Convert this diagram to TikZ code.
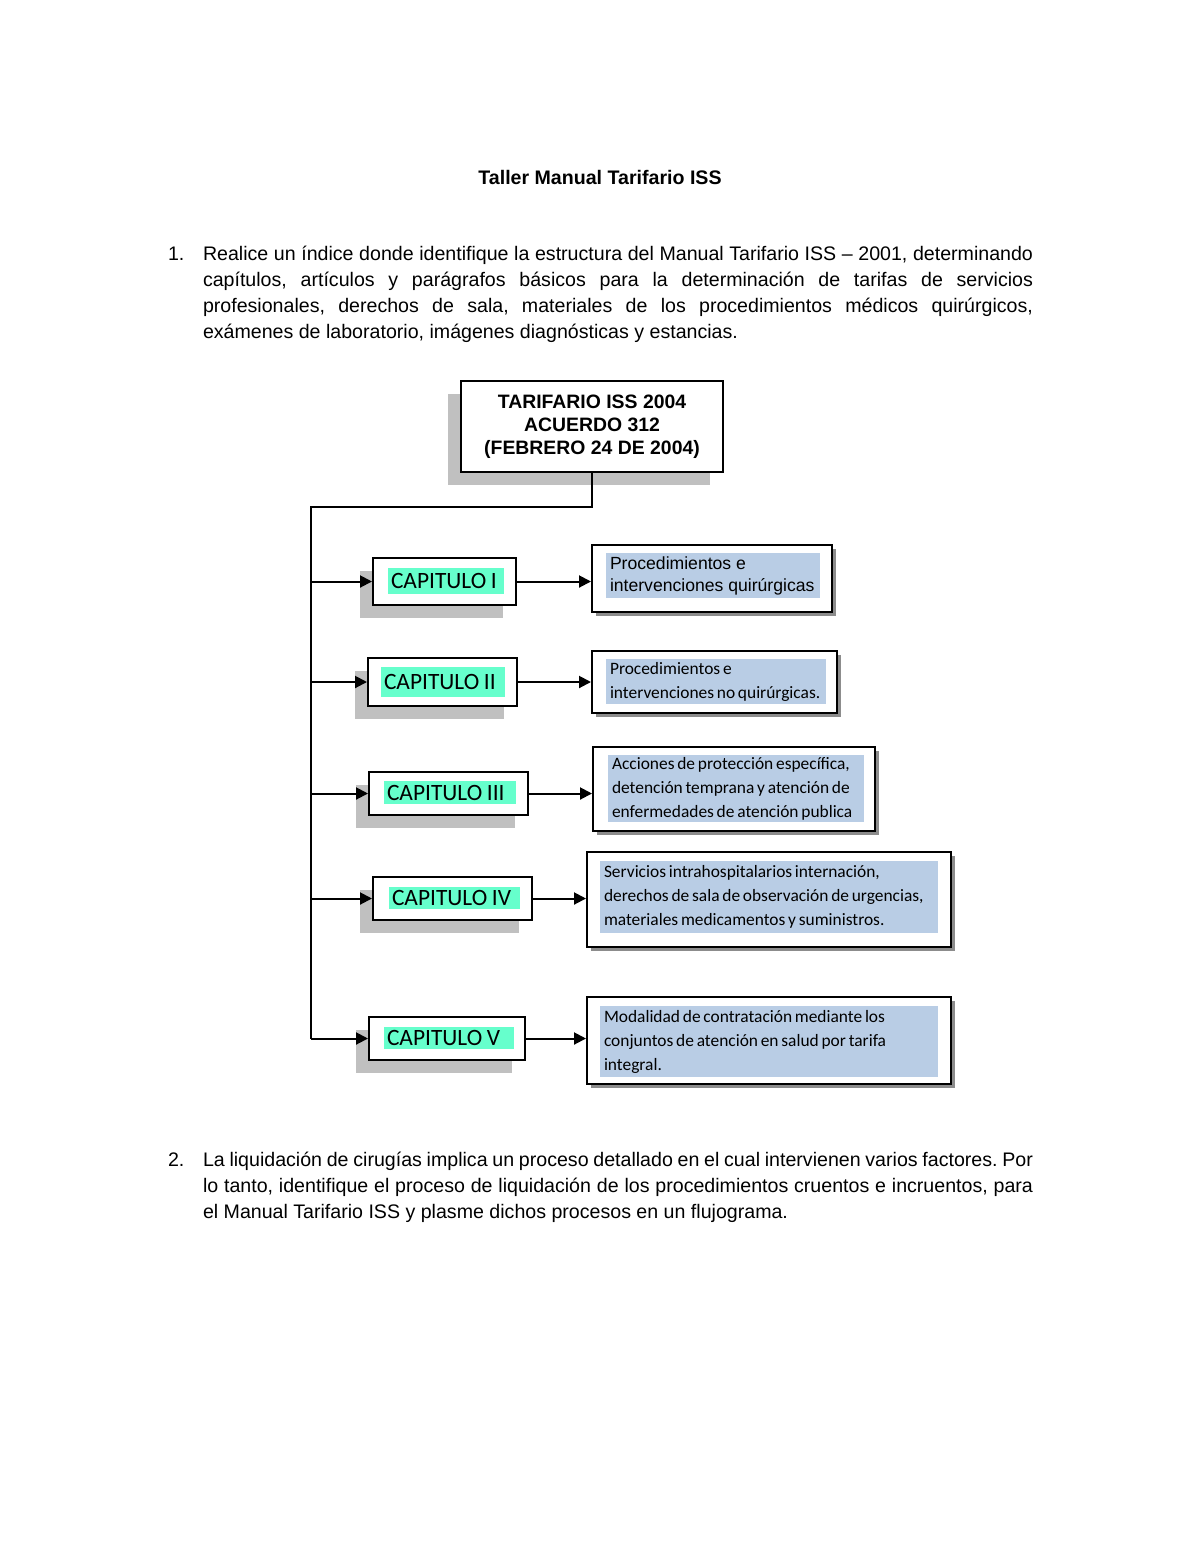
\documentclass[tikz,border=0pt]{standalone}
\usepackage{fontspec}
\setmainfont{Liberation Sans}
\newfontfamily\carlito{Carlito}
\usetikzlibrary{arrows.meta, shadows}

\definecolor{capgreen}{HTML}{66FFCC}
\definecolor{descblue}{HTML}{B9CDE5}
\definecolor{shadowgray}{HTML}{C0C0C0}

\newcommand{\tightspaces}{\spaceskip=0.16em plus 0.05em minus 0.02em\relax\hyphenpenalty=10000\relax}
\newcommand{\labelspaces}{\spaceskip=0.2em\relax}
\newcommand{\nohyph}{\spaceskip=0pt\relax\hyphenpenalty=10000\relax}

\tikzset{
  bodytext/.style={inner sep=0pt, font=\fontsize{9.8}{13}\selectfont, execute at begin node=\frenchspacing},
  topbox/.style={draw, fill=white, line width=1pt, align=center, inner sep=0pt,
    font=\bfseries\fontsize{9.7}{11.5}\selectfont,
    drop shadow={shadow xshift=-6.5pt, shadow yshift=-6.5pt, fill=shadowgray, opacity=1}},
  capbox/.style 2 args={draw, fill=white, line width=1pt, inner sep=0pt,
    minimum width=#1, minimum height=#2,
    drop shadow={shadow xshift=-6.5pt, shadow yshift=-6.5pt, fill=shadowgray, opacity=1}},
  caplabel/.style 2 args={fill=capgreen, anchor=west, inner xsep=1.5pt, inner ysep=0pt,
    text width=#1, minimum height=#2, align=left,
    font=\carlito\fontsize{11.7}{13}\selectfont, execute at begin node=\labelspaces},
  descbox/.style 2 args={draw, fill=white, line width=1pt, inner sep=0pt,
    minimum width=#1, minimum height=#2,
    drop shadow={shadow xshift=2pt, shadow yshift=-2pt, fill=black!45, opacity=1}},
  desctext/.style 2 args={fill=descblue, inner xsep=2pt, inner ysep=0pt,
    text width=#1, minimum height=#2, align=left,
    font=\carlito\fontsize{8.7}{12}\selectfont, execute at begin node=\tightspaces},
}

\begin{document}
\begin{tikzpicture}[x=0.5pt, y=-0.5pt, >={Triangle[length=6pt, width=6pt]}, line width=1pt]
    \useasboundingbox[fill=white] (0,0) rectangle (1200,1553);

    % heading and first question
    \node[bodytext, font=\bfseries\fontsize{9.8}{13}\selectfont, anchor=base] (title) at (600,184) {Taller Manual Tarifario ISS};
    \node[bodytext, anchor=base west] (num1) at (167,260) {1.};
    \node[bodytext, anchor=base west, text width=415pt, align=justify] (q1) at (202,260)
        {Realice un índice donde identifique la estructura del Manual Tarifario ISS – 2001, determinando\linebreak
         capítulos, artículos y parágrafos básicos para la determinación de tarifas de servicios\linebreak
         profesionales, derechos de sala, materiales de los procedimientos médicos quirúrgicos,\linebreak
         exámenes de laboratorio, imágenes diagnósticas y estancias.};

    % main box
    \node[topbox, minimum width=131pt, minimum height=45.5pt] (top) at (592,426.5)
        {TARIFARIO ISS 2004\\ACUERDO 312\\(FEBRERO 24 DE 2004)};

    % chapters
    \node[capbox={71.5pt}{23.5pt}] (c1) at (444.5,581.5) {};
    \node[caplabel={55pt}{13pt}] (g1) at (387,581) {CAPITULO I};
    \node[capbox={74.5pt}{24pt}] (c2) at (442.5,682) {};
    \node[caplabel={59pt}{15pt}] (g2) at (380,682) {CAPITULO II};
    \node[capbox={79.5pt}{21.5pt}] (c3) at (448.5,793.5) {};
    \node[caplabel={63pt}{11.5pt}] (g3) at (383,792.5) {CAPITULO III};
    \node[capbox={79.5pt}{21.5pt}] (c4) at (452.5,898.5) {};
    \node[caplabel={62.5pt}{11pt}] (g4) at (388,898) {CAPITULO IV};
    \node[capbox={78pt}{21.5pt}] (c5) at (447,1038.5) {};
    \node[caplabel={62pt}{11pt}] (g5) at (383,1038) {CAPITULO V};

    % descriptions
    \node[descbox={120pt}{33.5pt}] (d1) at (712,578.5) {};
    \node[desctext={103pt}{22.5pt}, font=\fontsize{8.8}{11}\selectfont, execute at begin node=\nohyph] (b1) at (713,575.5)
        {Procedimientos e\\intervenciones quirúrgicas};
    \node[descbox={122.5pt}{31pt}] (d2) at (714.5,682) {};
    \node[desctext={106pt}{22.5pt}] (b2) at (716,681.5)
        {Procedimientos e\\intervenciones no quirúrgicas.};
    \node[descbox={141pt}{42pt}] (d3) at (734,789) {};
    \node[desctext={124pt}{33.5pt}] (b3) at (736,788.5)
        {Acciones de protección específica,\\detención temprana y atención de\\enfermedades de atención publica};
    \node[descbox={182pt}{47.5pt}] (d4) at (769,899.5) {};
    \node[desctext={165pt}{36pt}] (b4) at (769,897)
        {Servicios intrahospitalarios internación,\\derechos de sala de observación de urgencias,\\materiales medicamentos y suministros.};
    \node[descbox={182pt}{43.5pt}] (d5) at (769,1040.5) {};
    \node[desctext={165pt}{35.5pt}] (b5) at (769,1041.5)
        {Modalidad de contratación mediante los\\conjuntos de atención en salud por tarifa\\integral.};

    % connectors
    \coordinate (trunk) at (311,507);
    \draw (top.south) |- (trunk) -- (trunk |- c5.west);
    \draw[->] (trunk |- c1.west) -- (c1.west);
    \draw[->] (trunk |- c2.west) -- (c2.west);
    \draw[->] (trunk |- c3.west) -- (c3.west);
    \draw[->] (trunk |- c4.west) -- (c4.west);
    \draw[->] (trunk |- c5.west) -- (c5.west);
    \draw[->] (c1.east) -- (c1.east -| d1.west);
    \draw[->] (c2.east) -- (c2.east -| d2.west);
    \draw[->] (c3.east) -- (c3.east -| d3.west);
    \draw[->] (c4.east) -- (c4.east -| d4.west);
    \draw[->] (c5.east) -- (c5.east -| d5.west);

    % second question
    \node[bodytext, anchor=base west] (num2) at (167,1166) {2.};
    \node[bodytext, anchor=base west, text width=415pt, align=justify] (q2) at (202,1166)
        {La liquidación de cirugías implica un proceso detallado en el cual intervienen varios factores. Por\linebreak
         lo tanto, identifique el proceso de liquidación de los procedimientos cruentos e incruentos, para\linebreak
         el Manual Tarifario ISS y plasme dichos procesos en un flujograma.};
\end{tikzpicture}
\end{document}
